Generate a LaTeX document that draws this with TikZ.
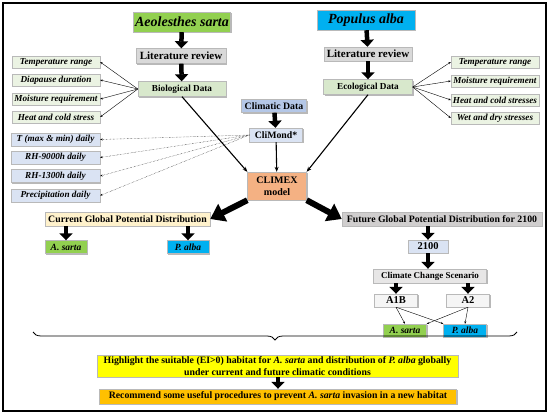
\documentclass[tikz,border=0pt]{standalone}
\usepackage{fontspec}
\setmainfont{Liberation Serif}
\usetikzlibrary{arrows.meta,shadows,decorations.pathreplacing}
\definecolor{sartagreen}{HTML}{92D050}
\definecolor{albablue}{HTML}{00B0F0}
\definecolor{litgrey}{HTML}{D9D9D9}
\definecolor{biogreen}{HTML}{D8E8CC}
\definecolor{listgreen}{HTML}{EBF3E3}
\definecolor{climblue}{HTML}{B4C7E7}
\definecolor{paleblue}{HTML}{DAE3F3}
\definecolor{climexorange}{HTML}{F4B183}
\definecolor{curyellow}{HTML}{FFF2CC}
\definecolor{futgrey}{HTML}{D0CECE}
\definecolor{scengrey}{HTML}{E7E6E6}
\definecolor{hlyellow}{HTML}{FFFF00}
\definecolor{recorange}{HTML}{FFC000}
\tikzset{
  box/.style={draw=gray!55,line width=0.4pt,inner sep=1pt,font=\fontsize{9.8}{11.5}\selectfont\bfseries,
    drop shadow={shadow xshift=1pt,shadow yshift=-1pt,fill=gray!70,opacity=0.8}},
  listbox/.style={box,minimum width=88pt,minimum height=12pt,font=\fontsize{9.2}{11}\selectfont\bfseries\itshape},
  specbox/.style={box,minimum width=43pt,minimum height=13pt,font=\fontsize{9.5}{11}\selectfont\bfseries\itshape},
  bigarrow/.style={line width=4.5pt,-{Triangle[length=7pt,width=13pt]}},
  hugearrow/.style={line width=6pt,-{Triangle[length=14pt,width=19pt]}},
  thinarrow/.style={line width=1.1pt,-{Stealth[length=5pt,width=4pt]}},
  fanline/.style={line width=0.4pt,-{Stealth[length=2.5pt,width=2pt]}},
}
\begin{document}
\begin{tikzpicture}[x=1pt,y=-1pt]
  \useasboundingbox (0,0) rectangle (550,415);
  \draw[line width=1.2pt] (3,3) rectangle (546,411);
  % species and literature
  \node[box,fill=sartagreen,minimum width=97pt,minimum height=20pt,font=\fontsize{14}{16}\selectfont\bfseries\itshape] (sarta) at (182,22) {Aeolesthes sarta};
  \node[box,fill=albablue,minimum width=98pt,minimum height=20pt,font=\fontsize{14}{16}\selectfont\bfseries\itshape] (alba) at (366,20) {Populus alba};
  \node[box,fill=litgrey,minimum width=90pt,minimum height=15pt,font=\fontsize{11}{13}\selectfont\bfseries] (litL) at (181,56) {Literature review};
  \node[box,fill=litgrey,minimum width=88pt,minimum height=14pt,font=\fontsize{11}{13}\selectfont\bfseries] (litR) at (368,54) {Literature review};
  \node[box,fill=biogreen,minimum width=88pt,minimum height=15pt,font=\fontsize{9.2}{11}\selectfont\bfseries] (bio) at (182,89) {Biological Data};
  \node[box,fill=biogreen,minimum width=89pt,minimum height=15pt,font=\fontsize{9.2}{11}\selectfont\bfseries] (eco) at (368,87) {Ecological Data};
  % biological and ecological lists
  \begin{scope}[every node/.style={listbox,fill=listgreen}]
    \node (b1) at (56,62) {Temperature range};
    \node (b2) at (56,80) {Diapause duration};
    \node (b3) at (56,99) {Moisture requirement};
    \node (b4) at (56,117) {Heat and cold stress};
    \node (e1) at (495,62) {Temperature range};
    \node (e2) at (495,81) {Moisture requirement};
    \node (e3) at (495,100) {Heat and cold stresses};
    \node (e4) at (495,118) {Wet and dry stresses};
  \end{scope}
  % climate data
  \node[box,fill=climblue,minimum width=65pt,minimum height=13pt] (clim) at (274,106) {Climatic Data};
  \node[box,fill=paleblue,minimum width=53pt,minimum height=14pt] (climond) at (276,135) {CliMond*};
  \node[box,fill=climexorange,minimum width=59pt,minimum height=28pt,align=center,font=\fontsize{10}{12}\selectfont\bfseries] (climex) at (277,186) {CLIMEX\\model};
  \begin{scope}[every node/.style={listbox,fill=paleblue,minimum width=89pt,minimum height=13pt}]
    \node (c1) at (55.5,139.5) {T (max \& min) daily};
    \node (c2) at (55.5,157.5) {RH-9000h daily};
    \node (c3) at (55.5,176) {RH-1300h daily};
    \node (c4) at (55.5,195.5) {Precipitation daily};
  \end{scope}
  % distributions
  \node[box,fill=curyellow,minimum width=165pt,minimum height=14pt] (cur) at (127.5,219) {Current Global Potential Distribution};
  \node[specbox,fill=sartagreen,minimum width=42pt] (curS) at (66,247) {A. sarta};
  \node[specbox,fill=albablue,minimum width=42pt] (curA) at (188,247) {P. alba};
  \node[box,fill=futgrey,minimum width=200pt,minimum height=14pt] (fut) at (442,219) {Future Global Potential Distribution for 2100};
  \node[box,fill=paleblue,minimum width=40pt,minimum height=13pt,font=\fontsize{10.5}{12}\selectfont\bfseries] (yr) at (428,246.5) {2100};
  \node[box,fill=scengrey,minimum width=113pt,minimum height=14pt,font=\fontsize{9}{11}\selectfont\bfseries] (scen) at (430,276) {Climate Change Scenario};
  \node[box,fill=gray!8,minimum width=43pt,minimum height=13pt,font=\fontsize{10.5}{12}\selectfont\bfseries] (a1b) at (396,300.5) {A1B};
  \node[box,fill=gray!8,minimum width=43pt,minimum height=13pt,font=\fontsize{10.5}{12}\selectfont\bfseries] (a2) at (468,300.5) {A2};
  \node[specbox,fill=sartagreen] (futS) at (405,330.5) {A. sarta};
  \node[specbox,fill=albablue] (futA) at (465,330.5) {P. alba};
  % outcome
  \node[box,fill=hlyellow,minimum width=361pt,minimum height=22pt,align=center] (hl) at (277.5,366) {Highlight the suitable (EI>0) habitat for \textit{A. sarta} and distribution of \textit{P. alba} globally\\under current and future climatic conditions};
  \node[box,fill=recorange,minimum width=357pt,minimum height=15pt] (rec) at (278,396.5) {Recommend some useful procedures to prevent \textit{A. sarta} invasion in a new habitat};
  % connectors
  \begin{scope}[every edge/.style={draw=black,bigarrow}]
    \path (sarta) edge (litL);
    \path (litL) edge (bio);
    \path (alba) edge (litR);
    \path (litR) edge (eco);
    \path (clim) edge (climond);
    \path (cur.south -| curS) edge (curS);
    \path (cur.south -| curA) edge (curA);
    \path (fut.south -| yr) edge (yr);
    \path (yr) edge (yr |- scen.north);
    \path (scen.south -| a1b) edge (a1b);
    \path (scen.south -| a2) edge (a2);
    \path (hl.south -| rec) edge (rec);
  \end{scope}
  \begin{scope}[every edge/.style={draw=black,fanline}]
    \path (bio.west) edge (b1.east);
    \path (bio.west) edge (b2.east);
    \path (bio.west) edge (b3.east);
    \path (bio.west) edge (b4.east);
    \path (eco.east) edge (e1.west);
    \path (eco.east) edge (e2.west);
    \path (eco.east) edge (e3.west);
    \path (eco.east) edge (e4.west);
    \path (a1b.south) edge (futS.north);
    \path (a1b.south) edge (futA.north west);
    \path (a2.south) edge (futS.north east);
    \path (a2.south) edge (futA.north);
  \end{scope}
  \begin{scope}[every edge/.style={draw=black,fanline,densely dotted}]
    \path (climond.west) edge (c1.east);
    \path (climond.west) edge (c2.east);
    \path (climond.west) edge (c3.east);
    \path (climond.west) edge (c4.east);
  \end{scope}
  \begin{scope}[every edge/.style={draw=black,thinarrow}]
    \path (bio.south) edge (climex.north west);
    \path (eco.south) edge (climex.north east);
    \path (climond) edge (climex);
  \end{scope}
  \begin{scope}[every edge/.style={draw=black,hugearrow}]
    \path (climex.south west) edge (cur.east);
    \path (climex.south east) edge (fut.west);
  \end{scope}
  \draw[line width=0.8pt,decorate,decoration={brace,amplitude=8pt,mirror}] (33,332) -- (517,332);
\end{tikzpicture}
\end{document}
